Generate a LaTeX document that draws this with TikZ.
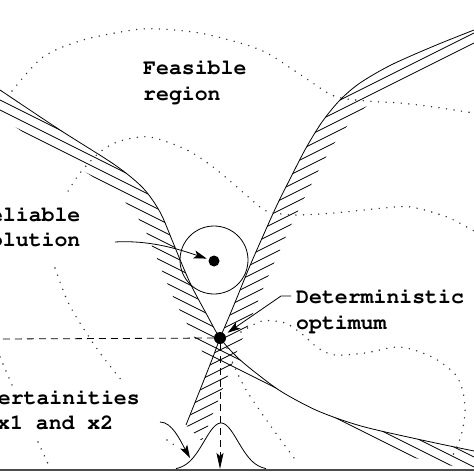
\documentclass[tikz,border=0pt]{standalone}
\usepackage[T1]{fontenc}
\usetikzlibrary{arrows.meta}
\begin{document}
\begin{tikzpicture}[x=1pt,y=-1pt,
  curve/.style={line width=0.8pt, black},
  hatch/.style={line width=0.7pt, black},
  contour/.style={line width=1.6pt, dash pattern=on 0pt off 7.6pt, line cap=round, black!80},
  dashedline/.style={line width=0.8pt, dash pattern=on 7pt off 5pt},
  lbl/.style={font=\fontencoding{T1}\fontfamily{pcr}\fontseries{b}\fontsize{21.5}{25.5}\selectfont, align=left, inner sep=0pt},
  arr/.style={line width=0.8pt, -{Stealth[length=13pt,width=8pt,inset=3pt]}},
  dotnode/.style={circle, fill, inner sep=0pt, minimum size=#1},
]
\useasboundingbox (0,0) rectangle (474,474);
\begin{scope}
\clip (0,0) rectangle (474,474);

% hatch band of the left constraint
\begin{scope}
\clip plot[smooth] coordinates {(-15,80) (0,90) (60,130) (115,165) (143,188) (160,212) (172,240) (181,262) (192,287) (207,315) (220,338) (237,357) (256,373) (282,392) (318,411) (361,426) (417,439) (474,451) (495,455)}
  -- plot[smooth] coordinates {(479,471) (458,467) (401,455) (345,442) (302,427) (266,408) (240,389) (221,373) (204,354) (191,331) (176,303) (165,278) (156,256) (144,228) (127,204) (99,181) (44,146) (-16,106) (-31,96)} -- cycle;
\foreach \c in {80,90,...,250} \draw[hatch] (-40,{\c-20}) -- (520,{\c+260});
\end{scope}

% hatch band of the right constraint
\begin{scope}
\clip plot[smooth] coordinates {(495,22) (474,30) (434,46) (391,65) (360,83) (340,100) (322,122) (306,148) (291,177) (277,205) (263,236) (249,268) (236,300) (226,324) (220,338) (213,357) (200,390) (186,425)}
  -- plot[smooth] coordinates {(202,441) (216,406) (229,373) (236,354) (242,340) (252,316) (265,284) (279,252) (293,221) (307,193) (322,164) (338,138) (356,116) (376,99) (407,81) (450,62) (490,46) (511,38)} -- cycle;
\foreach \c in {260,270,...,550} \draw[hatch] (150,{\c-75}) -- (520,{\c-260});
\end{scope}

% constraint curves
\draw[curve] plot[smooth] coordinates {(-15,80) (0,90) (60,130) (115,165) (143,188) (160,212) (172,240) (181,262) (192,287) (207,315) (220,338) (237,357) (256,373) (282,392) (318,411) (361,426) (417,439) (474,451) (495,455)};
\draw[curve] plot[smooth] coordinates {(495,22) (474,30) (434,46) (391,65) (360,83) (340,100) (322,122) (306,148) (291,177) (277,205) (263,236) (249,268) (236,300) (226,324) (220,338) (213,357) (200,390) (186,425)};

% contour lines
\draw[contour] plot[smooth] coordinates {(12,91) (43,57) (83,40) (133,30) (160,29) (200,33) (240,43) (267,53) (301,75) (334,96) (367,101) (400,103) (434,107) (474,113) (482,114)};
\draw[contour] plot[smooth] coordinates {(480,234) (474,231) (447,217) (411,207) (384,208) (334,213) (294,215) (270,212) (260,207) (237,187) (213,167) (187,150) (150,137) (120,141) (100,152) (80,173) (67,193)};
\draw[contour] plot[smooth] coordinates {(55,268) (67,300) (80,323) (100,353) (122,381)};
\draw[contour] (167,440) -- (177,447);
\draw[contour] (-3,350) -- (12,385);
\draw[contour] (38,442) -- (49,466);
\draw[contour] plot[smooth] coordinates {(241,332) (262,321) (285,323) (302,334) (318,348) (335,355) (365,353) (400,347) (432,357) (455,374) (463,392) (465,413) (461,436) (453,455)};
\draw[contour] plot[smooth] coordinates {(227,348) (235,368) (245,388) (258,408) (275,432) (297,462)};

% axis
\coordinate (axl) at (0,470);
\coordinate (axr) at (474,470);
\draw[line width=1.6pt, black!70] (axl) -- (axr);

% gaussian
\draw[curve] plot[domain=-45:45, samples=61] ({221+\x},{470-47*exp(-0.5*(\x/17)*(\x/17))});

% points
\node[draw, circle, minimum size=68pt, inner sep=0pt, line width=0.8pt] (rel) at (214,260) {};
\node[dotnode=11pt] (rdot) at (214,261) {};
\node[dotnode=12pt] (opt) at (220,338) {};

% dashed projections
\coordinate (hleft) at (-2,339);
\coordinate (axisx) at (220,469);
\draw[dashedline] (opt) -- (hleft);
\draw[dashedline, -{Stealth[length=16pt,width=7pt,inset=3pt]}] (opt) -- (axisx);

% labels
\node[lbl, anchor=west] (feas) at (143,82) {Feasible\\region};
\node[lbl, anchor=west] (rlab) at (-23,227) {Reliable\\solution};
\node[lbl, anchor=west] (det) at (296,311) {Deterministic\\optimum};
\node[lbl, anchor=base west] (unc1) at (-41,404) {Uncertainities};
\node[lbl, anchor=base west] (unc2) at (-3,429) {x1 and x2};

% arrows
\coordinate (rstart) at (115,242);
\draw[arr, shorten >=2pt] (rstart) .. controls (150,240) and (178,249) .. (rdot);
\draw[arr, shorten >=3pt] ([shift={(-5,-15)}]det.west) -- ++(-10,0) -- (opt);
\coordinate (ustart) at (160,422);
\coordinate (utip) at (190,458);
\draw[arr] (ustart) .. controls (172,422) and (180,440) .. (utip);
\end{scope}
\end{tikzpicture}
\end{document}
